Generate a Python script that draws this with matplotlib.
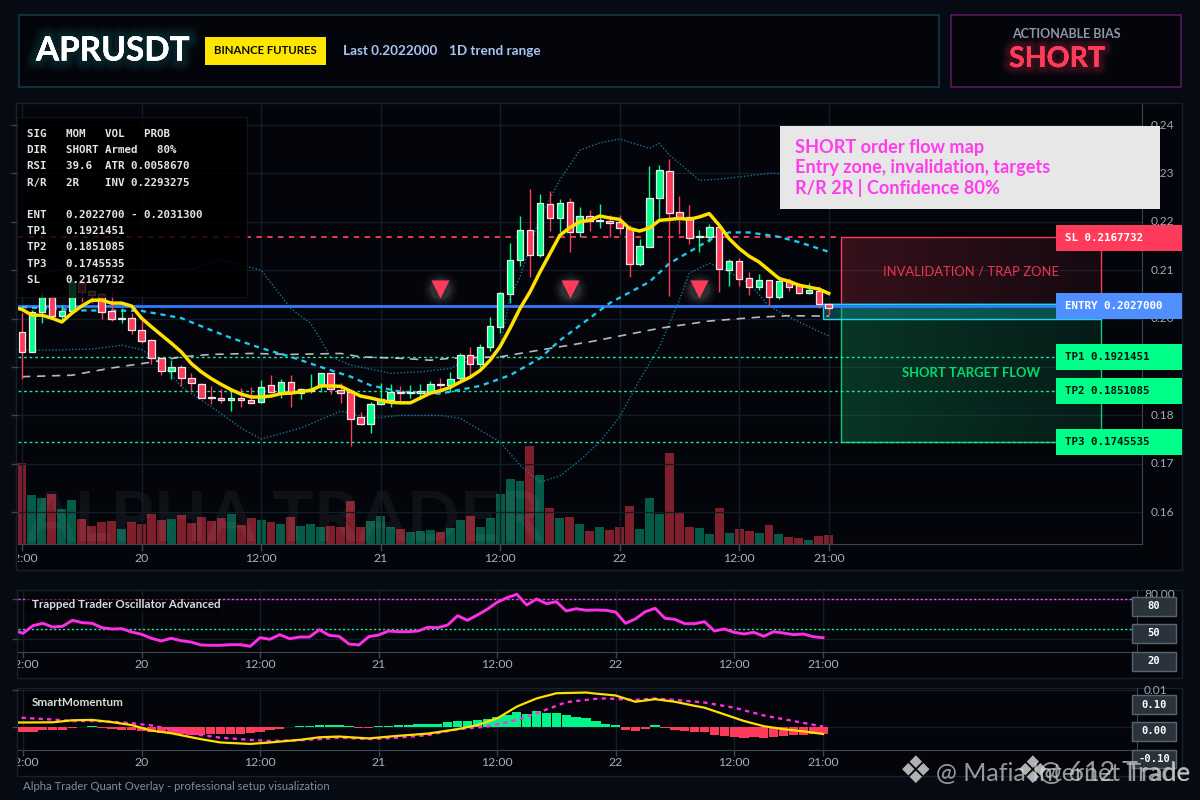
import numpy as np
import matplotlib
matplotlib.use("Agg")
import matplotlib.pyplot as plt
from matplotlib.patches import Rectangle
from matplotlib.transforms import Bbox
import matplotlib.patheffects as pe

# ---------- data ----------
opens = [.1973,.1930,.2014,.2045,.2006,.2015,.2074,.2057,.2050,.2015,.1999,.2002,.1977,.1955,.1918,.1891,.1901,.1877,.1865,.1838,.1835,.1832,.1835,.1831,.1827,.1862,.1849,.1869,.1846,.1851,.1861,.1887,.1852,.1849,.1796,.1783,.1823,.1832,.1848,.1846,.1846,.1848,.1865,.1862,.1877,.1924,.1906,.1942,.1982,.2051,.2122,.2184,.2132,.2236,.2208,.2240,.2178,.2212,.2201,.2201,.2200,.2188,.2113,.2148,.2249,.2304,.2220,.2209,.2169,.2168,.2190,.2101,.2118,.2083,.2066,.2079,.2045,.2078,.2069,.2053,.2058,.2030]
highs = [.2011,.2017,.2055,.2046,.2028,.2083,.2079,.2059,.2055,.2055,.2021,.2011,.1995,.1957,.1920,.1914,.1904,.1887,.1866,.1860,.1854,.1852,.1856,.1858,.1873,.1883,.1875,.1883,.1856,.1885,.1888,.1888,.1866,.1852,.1807,.1828,.1867,.1865,.1861,.1862,.1865,.1871,.1877,.1889,.1928,.1941,.1947,.2003,.2055,.2156,.2212,.2267,.2257,.2264,.2248,.2250,.2230,.2224,.2236,.2214,.2215,.2193,.2165,.2315,.2317,.2329,.2253,.2234,.2183,.2195,.2192,.2124,.2126,.2096,.2092,.2080,.2089,.2084,.2073,.2073,.2067,.2031]
lows = [.1875,.1930,.1991,.2001,.1993,.2015,.2034,.2032,.1999,.1995,.1990,.1968,.1950,.1906,.1883,.1875,.1860,.1850,.1836,.1823,.1826,.1809,.1817,.1825,.1825,.1846,.1836,.1818,.1834,.1846,.1849,.1844,.1826,.1736,.1780,.1763,.1821,.1818,.1828,.1836,.1834,.1846,.1846,.1849,.1873,.1880,.1900,.1933,.1970,.2032,.2109,.2086,.2127,.2181,.2178,.2138,.2168,.2181,.2187,.2168,.2175,.2086,.2109,.2148,.2205,.2047,.2175,.2154,.2138,.2159,.2055,.2067,.2068,.2048,.2059,.2027,.2040,.2057,.2050,.2050,.2022,.2007]
closes = [.1930,.2014,.2045,.2006,.2015,.2076,.2055,.2048,.2013,.1999,.2002,.1977,.1954,.1918,.1891,.1900,.1877,.1866,.1836,.1836,.1832,.1835,.1832,.1826,.1859,.1849,.1869,.1849,.1855,.1854,.1887,.1854,.1847,.1792,.1783,.1823,.1834,.1848,.1846,.1849,.1850,.1865,.1862,.1876,.1924,.1906,.1942,.1984,.2052,.2122,.2184,.2132,.2238,.2208,.2239,.2178,.2212,.2201,.2202,.2198,.2188,.2113,.2149,.2250,.2306,.2219,.2208,.2167,.2171,.2190,.2103,.2118,.2082,.2066,.2079,.2045,.2078,.2066,.2053,.2059,.2030,.2022]
volumes = [243,148,139,151,106,133,76,55,67,70,46,67,61,91,73,76,88,64,82,70,79,91,58,79,73,67,61,82,55,61,52,55,52,130,52,70,85,52,46,37,40,43,37,49,73,85,52,79,151,196,190,293,208,109,79,82,61,40,52,43,52,115,46,139,91,274,94,52,49,31,109,34,46,40,34,58,31,22,19,13,25,28]
ema_fast = [.2024,.2019,.2007,.2007,.2001,.1993,.2011,.2026,.2038,.2038,.2032,.2032,.2026,.2001,.1983,.1966,.1949,.1931,.1907,.1890,.1876,.1864,.1853,.1844,.1838,.1838,.1840,.1845,.1846,.1849,.1852,.1861,.1861,.1860,.1850,.1840,.1836,.1831,.1827,.1826,.1826,.1836,.1846,.1851,.1858,.1869,.1879,.1893,.1914,.1942,.1980,.2021,.2055,.2096,.2134,.2172,.2188,.2200,.2203,.2212,.2208,.2205,.2186,.2181,.2187,.2203,.2205,.2207,.2205,.2210,.2217,.2193,.2165,.2145,.2129,.2117,.2100,.2083,.2077,.2069,.2065,.2061,.2052]
ema_mid_hours = [-1,0,6,12,16,19,21,24,27,30,33,35,38,42,46,49,52,54,57,59,63,65,69,71,73,76,78,81]
ema_mid = [.2025,.2024,.2017,.2016,.2001,.1976,.1960,.1939,.1921,.1900,.1880,.1862,.1849,.1845,.1861,.1883,.1918,.1955,.2001,.2032,.2076,.2114,.2162,.2178,.2178,.2169,.2158,.2138]
ma_slow_hours = [0,5,9,13,16,19,23,27,32,34,38,41,43,48,52,57,60,64,69,74,77,81]
ma_slow = [.1880,.1883,.1898,.1910,.1921,.1926,.1928,.1926,.1928,.1921,.1918,.1914,.1918,.1921,.1935,.1952,.1964,.1980,.1995,.2003,.2006,.2005]
bb_up_hours = [-1,4,12,17,20,24,27,29,31,33,37,40,43,44,47,48,49,50,52,54,56,58,60,63,64,65,68,70,75,81]
bb_up = [.2088,.2100,.2101,.2102,.2122,.2100,.2021,.1990,.1921,.1904,.1887,.1890,.1897,.1908,.1921,.1942,.2045,.2086,.2210,.2286,.2348,.2363,.2371,.2352,.2362,.2338,.2286,.2288,.2300,.2299]
bb_low_hours = [-1,3,7,10,12,14,16,19,22,24,28,32,35,38,42,44,48,50,52,54,56,58,60,62,64,66,67,69,70,73,75,77,81]
bb_low = [.1935,.1935,.1937,.1945,.1936,.1908,.1859,.1818,.1774,.1751,.1774,.1809,.1794,.1800,.1800,.1794,.1745,.1697,.1662,.1675,.1707,.1745,.1797,.1873,.1942,.2038,.2094,.2114,.2107,.2073,.2026,.2003,.1964]
rsi = [48.5,45.4,53.0,55.4,51.7,52.4,58.4,56.0,55.4,51.0,49.7,50.0,46.7,44.4,40.4,37.7,40.4,38.0,36.7,33.7,33.4,33.4,34.0,34.0,32.4,41.0,39.4,44.0,40.0,41.7,41.7,49.0,43.4,42.4,34.7,33.7,42.0,43.7,47.7,47.0,47.0,47.7,51.4,51.0,53.7,63.0,58.4,63.7,69.4,76.4,81.0,84.4,73.7,79.7,75.0,77.0,67.7,70.0,68.4,68.7,68.4,66.7,55.4,59.7,67.0,70.4,60.4,59.4,55.0,55.0,57.0,47.7,49.7,46.4,44.7,46.4,42.4,47.0,45.7,44.0,44.7,42.0,41.0]
hist = [-.0014,-.0013,-.0007,-.0007,-.0007,-.0003,.0001,.0004,-.0001,-.0005,-.0007,-.0007,-.0009,-.0014,-.0016,-.0018,-.0018,-.0020,-.0020,-.0018,-.0019,-.0018,-.0018,-.0015,-.0013,-.0006,-.0005,.0001,.0004,.0004,.0006,.0006,.0006,.0004,-.0001,-.0001,.0004,.0004,.0006,.0007,.0009,.0009,.0010,.0014,.0016,.0017,.0020,.0023,.0027,.0033,.0041,.0037,.0043,.0040,.0039,.0033,.0029,.0026,.0018,.0009,.0006,-.0007,-.0010,-.0005,.0005,-.0002,-.0007,-.0009,-.0014,-.0014,-.0020,-.0023,-.0025,-.0028,-.0025,-.0028,-.0025,-.0023,-.0020,-.0020,-.0018,-.0018]
macd_hours = [-1,0,3,5,7,9,11,13,15,18,20,23,25,28,30,32,35,38,41,44,46,48,50,52,54,57,58,60,62,64,66,68,69,71,73,75,77,79,81]
macd = [.0013,.0013,.00135,.0019,.0020,.0014,.0006,-.0009,-.0016,-.0032,-.0041,-.0045,-.0041,-.0034,-.0027,-.0025,-.0030,-.0023,-.0017,-.0005,.0006,.0024,.0056,.0078,.0092,.0094,.0091,.0086,.0069,.0076,.0069,.0058,.0053,.0035,.0017,.0003,-.0005,-.0011,-.0018]
signal_hours = [-1,3,5,7,9,11,13,15,18,20,23,25,28,30,32,35,38,41,44,47,50,52,55,58,59,62,64,66,69,72,75,78,81]
signal_line = [.0027,.0021,.0017,.0017,.0015,.0011,.0005,-.0005,-.0021,-.0028,-.0034,-.0037,-.0035,-.0032,-.0028,-.0032,-.0028,-.0021,-.0005,.0002,.0020,.0038,.0068,.0077,.0078,.0074,.0078,.0074,.0067,.0053,.0032,.0017,.0002]
x_tick_hours = [0,12,24,36,48,60,72,81]
x_tick_labels = ["12:00","20","12:00","21","12:00","22","12:00","21:00"]
price_ticks = [.16,.17,.18,.19,.20,.21,.22,.23,.24]
signal_idx = [42,55,68]
signal_price = [.2061,.2061,.2061]
SL, ENTRY, TP1, TP2, TP3 = .2167732, .2027, .1921451, .1851085, .1745535
ENTRY_ZONE = (.1999, .2031)
table_lines = ["SIG   MOM   VOL   PROB","DIR   SHORT Armed   80%","RSI   39.6  ATR 0.0058670","R/R   2R    INV 0.2293275","",
 "ENT   0.2022700 - 0.2031300","TP1   0.1921451","TP2   0.1851085","TP3   0.1745535","SL    0.2167732"]

# ---------- helpers ----------
W, H = 1200, 800
UI = ["Lato", "DejaVu Sans"]
MONO = "DejaVu Sans Mono"
BG, PANEL, GRID, EDGE = "#060a12", "#03050b", "#141d27", "#16212d"
RED, GREEN = "#ff3b5c", "#00ff88"
fig = plt.figure(figsize=(W/100, H/100), dpi=100, facecolor=BG)

def axpx(x0, y0, x1, y1, **kw):
    return fig.add_axes([x0/W, 1-y1/H, (x1-x0)/W, (y1-y0)/H], **kw)
def fx(x): return x/W
def fy(y): return 1-y/H
def frect(x0, y0, x1, y1, z=1, **kw):
    r = Rectangle((fx(x0), fy(y1)), (x1-x0)/W, (y1-y0)/H, transform=fig.transFigure, zorder=z, **kw)
    fig.add_artist(r)
    return r
def ftext(x, y, s, z=20, **kw):
    kw.setdefault("va", "center")
    return fig.text(fx(x), fy(y), s, zorder=z, **kw)
def glow(color, widths=(10,7,4,2), alpha=.10):
    return [pe.withStroke(linewidth=w, foreground=color, alpha=alpha) for w in widths] + [pe.Normal()]

# ---------- frames ----------
frect(19,15,939,87, z=1, fc=PANEL, ec="#0e3b44", lw=1.2)
frect(951,15,1181,87, z=1, fc=PANEL, ec="#5a1763", lw=1.2)
frect(16,103,1182,570, z=1, fc=PANEL, ec=EDGE, lw=1)
frect(17,590,1182,678, z=1, fc=PANEL, ec=EDGE, lw=1)
frect(17,688,1182,776, z=1, fc=PANEL, ec=EDGE, lw=1)

# ---------- main panel ----------
x0px, hourpx = 22.0, 9.96
def x_of(px, o=x0px, s=hourpx): return (px-o)/s
ax = axpx(18,104,1142,544, facecolor="none", zorder=5)
ax.set_xlim(x_of(18), x_of(1142))
ylim_lo = .24-(544-125)/4840; ylim_hi = .24-(104-125)/4840
ax.set_ylim(ylim_lo, ylim_hi)

hours = np.arange(len(closes))
ext_hours = np.arange(-1, len(closes))
ax.set_xticks(x_tick_hours); ax.set_yticks(price_ticks)
ax.grid(True, color=GRID, lw=1)
ax.set_axisbelow(True)
ax.tick_params(colors="#3a4450", length=5, width=1, labelbottom=False, labelleft=False)
for s in ["top","left"]: ax.spines[s].set_visible(False)
for s in ["bottom","right"]: ax.spines[s].set_color("#3a4652")
for p in price_ticks:
    ax.text(1.008, p, f"{p:.2f}", transform=ax.get_yaxis_transform(), color="#a0a8b2", fontsize=8.6,
            family=UI, va="center", ha="left", clip_on=False, zorder=2)

# volume on own scale
axv = axpx(18,104,1142,544, facecolor="none", zorder=4)
axv.set_xlim(ax.get_xlim()); axv.set_ylim(0,1320); axv.axis("off")
up = np.array(closes) >= np.array(opens)
axv.bar(hours, volumes, width=.9, color=np.where(up,"#065a48","#7f1f2c"), zorder=2)
axv.text(x_of(286), 9, "ALPHA TRADER", color="#ffffff", alpha=.05, fontsize=50, family=UI, weight="bold",
         ha="center", va="baseline", zorder=3, clip_on=True)

# zones
def grad(axx, x0, x1, y0, y1, c, amax, amin, z):
    rgba = np.zeros((1,64,4)); rgba[...,:3] = matplotlib.colors.to_rgb(c)
    rgba[...,3] = np.linspace(amax, amin, 64)
    axx.imshow(rgba, extent=(x0,x1,y0,y1), aspect="auto", zorder=z, interpolation="bilinear")
zx0, zx1 = x_of(841.3), x_of(1100.7)
grad(ax, zx0, zx1, ENTRY, SL, "#7c2230", .42, .16, 1.5)
grad(ax, zx0, zx1, TP3, ENTRY, "#10784a", .42, .20, 1.5)
ax.add_patch(Rectangle((zx0,ENTRY),zx1-zx0,SL-ENTRY,fc="none",ec=RED,lw=1,zorder=1.7))
ax.add_patch(Rectangle((zx0,TP3),zx1-zx0,ENTRY-TP3,fc="none",ec="#16c878",lw=1,zorder=1.7))
ezx = x_of(823.3)
grad(ax, ezx, zx1, ENTRY_ZONE[0], ENTRY_ZONE[1], "#12a0a0", .38, .38, 1.8)
ax.add_patch(Rectangle((ezx,ENTRY_ZONE[0]),zx1-ezx,ENTRY_ZONE[1]-ENTRY_ZONE[0],fc="none",ec="#22d3ee",lw=1,zorder=1.9))
ax.set_xlim(x_of(18), x_of(1142)); ax.set_ylim(ylim_lo, ylim_hi)

# levels
lx = x_of(1056)
ax.plot([ax.get_xlim()[0], zx0],[SL,SL], color=RED, lw=1.3, ls=(0,(3,3)), zorder=2)
for lv in (TP1,TP2,TP3):
    ax.plot([ax.get_xlim()[0], lx],[lv,lv], color="#1fe59a", lw=1, ls=(0,(2,2)), zorder=2)
ax.plot([ax.get_xlim()[0], lx],[ENTRY,ENTRY], color="#2f7bff", lw=2, zorder=2.2)

# bands and averages
ax.plot(bb_up_hours, bb_up, color="#1a7fa5", lw=1, ls=(0,(1,1.4)), alpha=.9, zorder=2.5)
ax.plot(bb_low_hours, bb_low, color="#1a7fa5", lw=1, ls=(0,(1,1.4)), alpha=.9, zorder=2.5)
ax.plot(ma_slow_hours, ma_slow, color="#d8d8d8", lw=1.2, ls=(0,(5,4)), alpha=.85, zorder=2.6)
ax.plot(ema_mid_hours, ema_mid, color="#1ec8ee", lw=1.7, ls=(0,(2.2,2)), zorder=2.7)

# candles
for i,(o,h,l,c) in enumerate(zip(opens,highs,lows,closes)):
    col = GREEN if c>=o else RED
    ax.plot([i,i],[l,h], color=col, lw=1, zorder=3, solid_capstyle="butt")
    ax.add_patch(Rectangle((i-.33,min(o,c)),.66,max(abs(c-o),.00025),fc=col,ec="#f0e8e8",lw=.9,zorder=3.2))
ax.plot(ext_hours, ema_fast, color="#ffe000", lw=2.5, zorder=3.6, solid_joinstyle="round")

# signals
for s,a in ((620,.03),(430,.04),(300,.05),(210,.07)):
    ax.scatter(signal_idx, signal_price, s=s, color="#ffffff", alpha=a, linewidths=0, zorder=3.7)
ax.scatter(signal_idx, signal_price, s=170, marker="v", color=RED, linewidths=0, zorder=3.8)

# zone text
ax.text((zx0+zx1)/2, .24-(271-125)/4840, "INVALIDATION / TRAP ZONE", color=RED, fontsize=9.4, family=UI,
        ha="center", va="center", zorder=4, alpha=.9)
ax.text((zx0+zx1)/2, .24-(373-125)/4840, "SHORT TARGET FLOW", color="#00e676", fontsize=9.4, family=UI,
        weight="bold", ha="center", va="center", zorder=4, alpha=.95)

def xlabels(ypx, o, s):
    for h,lab in zip(x_tick_hours, x_tick_labels):
        t = ftext(o+s*h, ypx, lab, color="#a8b0ba", fontsize=8.8, family=UI, ha="center")
        t.set_clip_box(Bbox([[18,0],[W,H]])); t.set_clip_on(True)
xlabels(558, x0px, hourpx)

# overlays above axes
frect(17.3,117.3,246.7,296.7, z=10, fc="#000000", ec="#151a20", lw=.8, alpha=.82)
for row_y, line in zip([134,150,166,183,199,215,231,247,264,280], table_lines):
    ftext(26.7, row_y, line, color="#e4e4e4", fontsize=7.85, family=MONO, weight="bold")

frect(780,125.7,1160,209.3, z=10, fc="#f0f0f0", ec="none", alpha=.97)
for row_y, line in zip([147,168,188], ["SHORT order flow map","Entry zone, invalidation, targets","R/R 2R | Confidence 80%"]):
    ftext(795, row_y, line, color="#ff3cf0", fontsize=13.1, family=UI, weight="bold")

def badge(y0, y1, c, s, tc, weight="bold"):
    frect(1056,y0,1182,y1, z=11, fc=c, ec="none")
    ftext(1065, (y0+y1)/2, s, z=12, color=tc, fontsize=7.85, family=MONO, weight=weight)
badge(225,251,RED,"SL 0.2167732","#ffffff")
badge(293,319,"#4f8fff","ENTRY 0.2027000","#ffffff")
badge(344,370,GREEN,"TP1 0.1921451","#03140c")
badge(378,404,GREEN,"TP2 0.1851085","#03140c")
badge(429,455,GREEN,"TP3 0.1745535","#03140c")

# ---------- oscillator panel ----------
lo_x0, lo_s = 23.0, 9.877
axr = axpx(18,590,1136.5,652.3, facecolor="none", zorder=5)
axr.set_xlim((18-lo_x0)/lo_s, (1136.5-lo_x0)/lo_s)
axr.set_ylim(80-(652.3-598.7), 80+(598.7-590))
axr.set_xticks(x_tick_hours); axr.set_yticks([40,80])
axr.grid(True, color=GRID, lw=1); axr.set_axisbelow(True)
axr.tick_params(colors="#3a4450", length=4, width=1, labelbottom=False, labelleft=False)
for s in ["top","left"]: axr.spines[s].set_visible(False)
for s in ["bottom","right"]: axr.spines[s].set_color("#3a4652")
axr.axhline(80, color="#ff3cf0", lw=1, ls=(0,(1.6,1.6)), zorder=2)
axr.axhline(50, color="#1fe59a", lw=1, ls=(0,(1.6,1.6)), zorder=2)
axr.plot(ext_hours, rsi, color="#ff2ee6", lw=2.1, zorder=3, solid_joinstyle="round")
xlabels(665, lo_x0, lo_s)
frect(26,597,219,613, z=9, fc="#000000", ec="none", alpha=.55)
ftext(32, 605, "Trapped Trader Oscillator Advanced", color="#d8dce0", fontsize=8.4, family=UI, weight="bold")

# ---------- momentum panel ----------
axm = axpx(18,688,1136.5,750, facecolor="none", zorder=5)
axm.set_xlim((18-lo_x0)/lo_s, (1136.5-lo_x0)/lo_s)
axm.set_ylim((727.3-750)/3700, (727.3-688)/3700)
axm.set_xticks(x_tick_hours); axm.set_yticks([0,.01])
axm.grid(True, color=GRID, lw=1); axm.set_axisbelow(True)
axm.tick_params(colors="#3a4450", length=4, width=1, labelbottom=False, labelleft=False)
for s in ["top","left"]: axm.spines[s].set_visible(False)
for s in ["bottom","right"]: axm.spines[s].set_color("#3a4652")
h = np.array(hist)
axm.bar(hours, h, width=.94, color=np.where(h>=0,"#00f58a","#ff3b5c"), zorder=2)
axm.plot(signal_hours, signal_line, color="#ff2ee6", lw=1.7, ls=(0,(1.8,1.8)), zorder=3)
axm.plot(macd_hours, macd, color="#ffe000", lw=1.6, zorder=3.2)
xlabels(763, lo_x0, lo_s)
frect(26,695,124,712, z=9, fc="#000000", ec="none", alpha=.55)
ftext(32, 703, "SmartMomentum", color="#d8dce0", fontsize=8.4, family=UI, weight="bold")

# axis badges and labels behind
ftext(1144, 595, "80.00", z=8, color="#a0a8b2", fontsize=8.6, family=UI)
ftext(1144, 690, "0.01", z=8, color="#a0a8b2", fontsize=8.6, family=UI)
for (y0,y1,s) in [(597,615.7,"80"),(624,642.7,"50"),(652,670.7,"20"),(695.3,713.7,"0.10"),(722,741,"0.00"),(750,768,"-0.10")]:
    frect(1132,y0,1176,y1, z=11, fc="#2a323c", ec="#5a6470", lw=1)
    ftext(1154,(y0+y1)/2,s, z=12, color="#ffffff", fontsize=7.6, family=MONO, weight="bold", ha="center")

# ---------- header ----------
ftext(36, 51, "APRUSDT", color="#ffffff", fontsize=24, family=UI, weight="bold",
      path_effects=glow("#1fb6c8", (14,10,6), .05))
frect(205,37,326,65, z=10, fc="#ffe600", ec="none")
ftext(265.5, 51, "BINANCE FUTURES", color="#0a0a0a", fontsize=8.2, family=UI, weight="bold", ha="center")
ftext(343, 51, "Last 0.2022000", color="#a9c4f2", fontsize=9.7, family=UI, weight="bold")
ftext(449, 51, "1D trend range", color="#a9c4f2", fontsize=9.7, family=UI, weight="bold")
ftext(1066, 34, "ACTIONABLE BIAS", color="#8f98a8", fontsize=9, family=UI, weight="bold", ha="center")
ftext(1057, 59, "SHORT", color=RED, fontsize=20.5, family=UI, weight="bold", ha="center",
      path_effects=glow(RED, (12,8,5), .07))

# ---------- footer ----------
ftext(23, 787, "Alpha Trader Quant Overlay - professional setup visualization", color="#7f8c9a", fontsize=8.2, family=UI)
for dx, s, fs in ((916,"@ Mafia Internet Trade",18),(1033,"@ 612 Trade",19.4)):
    ftext(dx, 773, "\u2756", z=30, color="#d0d0d0", alpha=.85, fontsize=27, family="DejaVu Sans", ha="center")
    ftext(1190, 774, s, z=30, color="#d0d0d0", alpha=.72, fontsize=fs, family=UI, ha="right")

fig.savefig("out.png", dpi=100, facecolor=fig.get_facecolor())
